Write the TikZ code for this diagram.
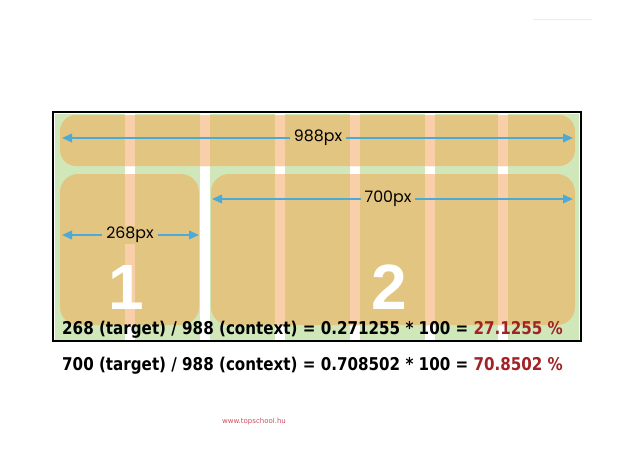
\documentclass[tikz,border=0pt]{standalone}
\usepackage{fontspec}
\setmainfont{DejaVu Sans}
\newfontfamily\calcfont[FakeStretch=0.86]{DejaVu Sans}
\newfontfamily\dimfont{Poppins}
\newfontfamily\bignumfont{Liberation Sans}
\usetikzlibrary{arrows.meta}

\definecolor{gridgreen}{RGB}{208,231,186}
\definecolor{boxtan}{RGB}{227,197,130}
\definecolor{gutter}{RGB}{248,207,168}
\definecolor{dimblue}{RGB}{75,170,214}
\definecolor{pctred}{RGB}{160,35,38}
\definecolor{footred}{RGB}{205,75,95}

\tikzset{
  dimarrow/.style={draw=dimblue, line width=2pt, {Triangle[length=10pt,width=8.5pt]}-{Triangle[length=10pt,width=8.5pt]}},
  dimlabel/.style={fill=boxtan, inner xsep=4pt, inner ysep=1pt, font=\dimfont\fontsize{15.8}{18}\selectfont},
  bignum/.style={white, inner sep=0pt, anchor=base, font=\bignumfont\bfseries\fontsize{64}{64}\selectfont},
  calcline/.style={inner sep=0pt, anchor=base west, font=\calcfont\bfseries\fontsize{17.6}{20}\selectfont},
  footnote/.style={footred, inner sep=0pt, font=\fontsize{7}{8}\selectfont}
}

\begin{document}
\begin{tikzpicture}[x=1pt,y=-1pt]
\useasboundingbox (0,0) rectangle (638,451);

% faint rule top right
\draw[black!7, line width=1pt] (533,19) -- (592,19);

%%%%%%%%%%%%%%%%%%%%%%%%%%%%%%%%%%%%%%%%%%%%
% grid background
\fill[gridgreen] (55,114) rectangle (579,340);
\foreach \sx in {125,200,275,350,425,498}
  \fill[white] (\sx,114) rectangle ++(10,226);

\fill[boxtan, rounded corners=16pt] (60,115) rectangle (575,166);
\fill[boxtan, rounded corners=18pt] (60,174) rectangle (199,325);
\fill[boxtan, rounded corners=18pt] (211,174) rectangle (575,325);

\begin{scope}
\clip[rounded corners=16pt] (60,115) rectangle (575,166)
  (60,174) rectangle (199,325) (211,174) rectangle (575,325);
\foreach \sx in {125,200,275,350,425,498}
  \fill[gutter] (\sx,114) rectangle ++(10,226);
\end{scope}

%%%%%%%%%%%%%%%%%%%%%%%%%%%%%%%%%%%%%%%%%%%%
% widths
\coordinate (ctxL) at (62,138);
\coordinate (ctxR) at (573,138);
\coordinate (wideL) at (212,199);
\coordinate (wideR) at (573,199);
\coordinate (narrowL) at (62,235);
\coordinate (narrowR) at (199,235);

\draw[dimarrow] (ctxL) -- (ctxR);
\draw[dimarrow] (wideL) -- (wideR);
\draw[dimarrow] (narrowL) -- (narrowR);

\node[dimlabel] (ctxlbl) at (318,138) {988px};
\node[dimlabel] (widelbl) at (388,199) {700px};
\node[dimlabel] (narrowlbl) at (130,235) {268px};

\node[bignum] (colone) at (126,309) {1};
\node[bignum] (coltwo) at (389,309) {2};

%%%%%%%%%%%%%%%%%%%%%%%%%%%%%%%%%%%%%%%%%%%%
% sums
\node[calcline] (sumone) at (62,334) {268 (target) / 988 (context) = 0.271255 * 100 = \textcolor{pctred}{27.1255 \%}};

\draw[line width=1.6pt] (53,112) rectangle (581,341);

\node[calcline] (sumtwo) at (62,370) {700 (target) / 988 (context) = 0.708502 * 100 = \textcolor{pctred}{70.8502 \%}};

\node[footnote] (source) at (254,422) {www.topschool.hu};

\end{tikzpicture}
\end{document}
